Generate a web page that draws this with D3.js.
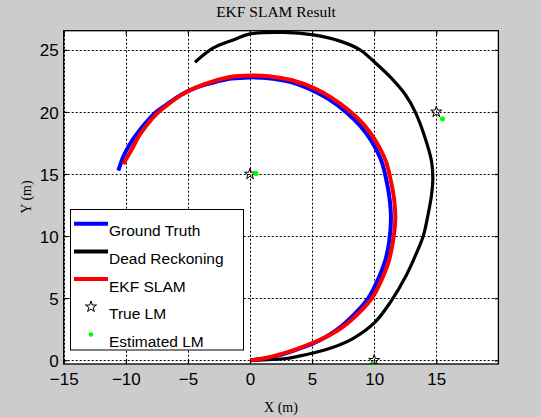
<!DOCTYPE html>
<html>
<head>
<meta charset="utf-8">
<script src="https://cdn.jsdelivr.net/npm/d3@7"></script>
<style>
  body { margin: 0; background: #cccccc; }
  svg { display: block; }
  .tick text { font-family: "Liberation Sans", Arial, sans-serif; font-size: 17px; fill: #000; }
</style>
</head>
<body>
<div id="chart"></div>
<script>
// data (metres)
const groundTruth = [
  [0, 0], [1.35, 0.17], [2.7, 0.5], [4.03, 0.95], [5.6, 1.6], [6.98, 2.44],
  [8.45, 3.75], [9.55, 5.05], [10.3, 6.5], [10.85, 7.9], [11.2, 9.5],
  [11.35, 11.4], [11.24, 13.0], [11.0, 14.4], [10.6, 16], [9.75, 17.7],
  [8.9, 18.85], [7.72, 20], [6.3, 21.05], [5, 21.75], [3.3, 22.4],
  [1.5, 22.72], [0, 22.78], [-1.5, 22.68], [-3.0, 22.35], [-4.5, 21.9],
  [-5.6, 21.35], [-6.7, 20.6], [-7.6, 19.95], [-8.5, 19.0], [-9.2, 18.1],
  [-9.7, 17.36], [-10.2, 16.4], [-10.6, 15.27]
];
const deadReckoning = [
  [0, 0], [2.7, 0.12], [4.03, 0.35], [5, 0.56], [6.7, 1.05], [8.32, 1.77],
  [10.05, 3.05], [11.35, 4.75], [12.6, 6.87], [13.35, 8.5], [13.95, 10],
  [14.35, 11.8], [14.6, 13.2], [14.72, 14.6], [14.62, 16], [14.1, 17.9],
  [13.3, 20], [12.5, 21.4], [11.4, 22.7], [9.93, 24.1], [8.86, 25],
  [7.25, 25.7], [5.1, 26.2], [2.7, 26.4], [0, 26.28], [-1.35, 25.8],
  [-2.95, 25.15], [-4.43, 24.0]
];
const ekfSlam = [
  [0, 0], [1.35, 0.2], [2.7, 0.55], [4.03, 1.0], [5.64, 1.65], [7.2, 2.5],
  [8.7, 3.75], [9.85, 5.05], [10.6, 6.5], [11.15, 7.9], [11.5, 9.5],
  [11.7, 11.4], [11.6, 13.0], [11.35, 14.4], [10.95, 16], [10.1, 17.7],
  [9.2, 18.95], [8.0, 20.1], [6.55, 21.15], [5.2, 21.9], [3.4, 22.55],
  [1.5, 22.88], [0, 22.93], [-1.5, 22.83], [-3.0, 22.45], [-4.5, 21.9],
  [-5.55, 21.35], [-6.6, 20.6], [-7.45, 19.9], [-8.3, 18.95], [-8.95, 18.05],
  [-9.35, 17.3], [-9.85, 16.4], [-10.2, 15.8]
];
const trueLM = [[0, 15], [10, 0], [15, 20]];
const estimatedLM = [[0.48, 15.05], [9.85, -0.3], [15.5, 19.45]];

const xTicks = [-15, -10, -5, 0, 5, 10, 15];
const yTicks = [0, 5, 10, 15, 20, 25];

const legendNames = ["Ground Truth", "Dead Reckoning", "EKF SLAM", "True LM", "Estimated LM"];

const W = 541, H = 417;
const plot = { left: 63.7, right: 498.4, top: 30.7, bottom: 364 };

const x = d3.scaleLinear().domain([-15, 20]).range([plot.left, plot.right]);
const y = d3.scaleLinear().domain([-0.3, 26.54]).range([plot.bottom, plot.top]);

const svg = d3.select("#chart").append("svg")
  .attr("width", W).attr("height", H);

svg.append("rect").attr("width", W).attr("height", H).attr("fill", "#cccccc");

// plot area
svg.append("rect")
  .attr("x", plot.left).attr("y", plot.top)
  .attr("width", plot.right - plot.left).attr("height", plot.bottom - plot.top)
  .attr("fill", "#fff");

svg.append("defs").append("clipPath").attr("id", "clip")
  .append("rect")
  .attr("x", plot.left).attr("y", plot.top)
  .attr("width", plot.right - plot.left).attr("height", plot.bottom - plot.top);

// dotted grid
const grid = svg.append("g").attr("stroke", "#000").attr("stroke-width", 1)
  .attr("stroke-dasharray", "2,2");
grid.selectAll(".gx").data(xTicks).join("line")
  .attr("x1", d => Math.round(x(d)) + 0.5).attr("x2", d => Math.round(x(d)) + 0.5)
  .attr("y1", plot.top).attr("y2", plot.bottom);
grid.selectAll(".gy").data(yTicks).join("line")
  .attr("y1", d => Math.round(y(d)) + 0.5).attr("y2", d => Math.round(y(d)) + 0.5)
  .attr("x1", plot.left).attr("x2", plot.right);

// trajectories
const line = d3.line().x(d => x(d[0])).y(d => y(d[1])).curve(d3.curveCatmullRom);
const paths = svg.append("g").attr("clip-path", "url(#clip)").attr("fill", "none");
paths.append("path").datum(groundTruth).attr("d", line)
  .attr("stroke", "#0000ff").attr("stroke-width", 4);
paths.append("path").datum(deadReckoning).attr("d", line)
  .attr("stroke", "#000").attr("stroke-width", 3.2);
paths.append("path").datum(ekfSlam).attr("d", line)
  .attr("stroke", "#ff0000").attr("stroke-width", 4);

// landmarks
const star = d3.symbol().type(d3.symbolStar).size(38);
const marks = svg.append("g").attr("clip-path", "url(#clip)");
marks.selectAll(".lm").data(trueLM).join("path")
  .attr("transform", d => `translate(${x(d[0])},${y(d[1])})`)
  .attr("d", star).attr("fill", "none").attr("stroke", "#000").attr("stroke-width", 1);
marks.selectAll(".elm").data(estimatedLM).join("circle")
  .attr("cx", d => x(d[0])).attr("cy", d => y(d[1])).attr("r", 2.6)
  .attr("fill", "#00ff00");

// axes with inward ticks on all sides
const xAxisG = svg.append("g").attr("transform", `translate(0,${plot.bottom})`)
  .call(d3.axisBottom(x).tickValues(xTicks).tickSize(-4).tickPadding(9))
  .call(g => g.select(".domain").remove());
const yAxisG = svg.append("g").attr("transform", `translate(${plot.left},0)`)
  .call(d3.axisLeft(y).tickValues(yTicks).tickSize(-4).tickPadding(5))
  .call(g => g.select(".domain").remove());
svg.append("g").attr("transform", `translate(0,${plot.top})`)
  .call(d3.axisTop(x).tickValues(xTicks).tickSize(-4).tickFormat(""))
  .call(g => g.select(".domain").remove());
svg.append("g").attr("transform", `translate(${plot.right},0)`)
  .call(d3.axisRight(y).tickValues(yTicks).tickSize(-4).tickFormat(""))
  .call(g => g.select(".domain").remove());
svg.selectAll(".tick line").attr("stroke-width", 1.2);
xAxisG.selectAll(".tick text").attr("dy", "0.71em");
yAxisG.selectAll(".tick text").attr("dy", "0.36em");

svg.append("rect")
  .attr("x", plot.left).attr("y", plot.top)
  .attr("width", plot.right - plot.left).attr("height", plot.bottom - plot.top)
  .attr("fill", "none").attr("stroke", "#000").attr("stroke-width", 1.3);

// titles
const serif = "'Liberation Serif', 'Times New Roman', serif";
svg.append("text").attr("x", 276).attr("y", 17).attr("text-anchor", "middle")
  .attr("font-family", serif).attr("font-size", 15.5).text("EKF SLAM Result");
svg.append("text").attr("x", 281).attr("y", 412).attr("text-anchor", "middle")
  .attr("font-family", serif).attr("font-size", 14).text("X (m)");
svg.append("text").attr("transform", "translate(31,197) rotate(-90)").attr("text-anchor", "middle")
  .attr("font-family", serif).attr("font-size", 14).text("Y (m)");

// legend
const lg = svg.append("g");
lg.append("rect").attr("x", 70.5).attr("y", 209.5).attr("width", 173).attr("height", 140.5)
  .attr("fill", "#fff").attr("stroke", "#000").attr("stroke-width", 1);
const rowY = i => 223.7 + i * 27.7;
const legendStyle = [
  { type: "line", color: "#0000ff" },
  { type: "line", color: "#000" },
  { type: "line", color: "#ff0000" },
  { type: "star" },
  { type: "dot" }
];
legendNames.forEach((name, i) => {
  const s = legendStyle[i];
  if (s.type === "line") {
    lg.append("line").attr("x1", 74).attr("x2", 108).attr("y1", rowY(i)).attr("y2", rowY(i))
      .attr("stroke", s.color).attr("stroke-width", 4);
  } else if (s.type === "star") {
    lg.append("path").attr("transform", `translate(91,${rowY(i)})`).attr("d", star)
      .attr("fill", "none").attr("stroke", "#000").attr("stroke-width", 1);
  } else {
    lg.append("circle").attr("cx", 91).attr("cy", rowY(i)).attr("r", 2.3).attr("fill", "#00ff00");
  }
  lg.append("text").attr("x", 109).attr("y", rowY(i) + 12.5)
    .attr("font-family", "'Liberation Sans', Arial, sans-serif").attr("font-size", 15.5)
    .text(name);
});
</script>
</body>
</html>
